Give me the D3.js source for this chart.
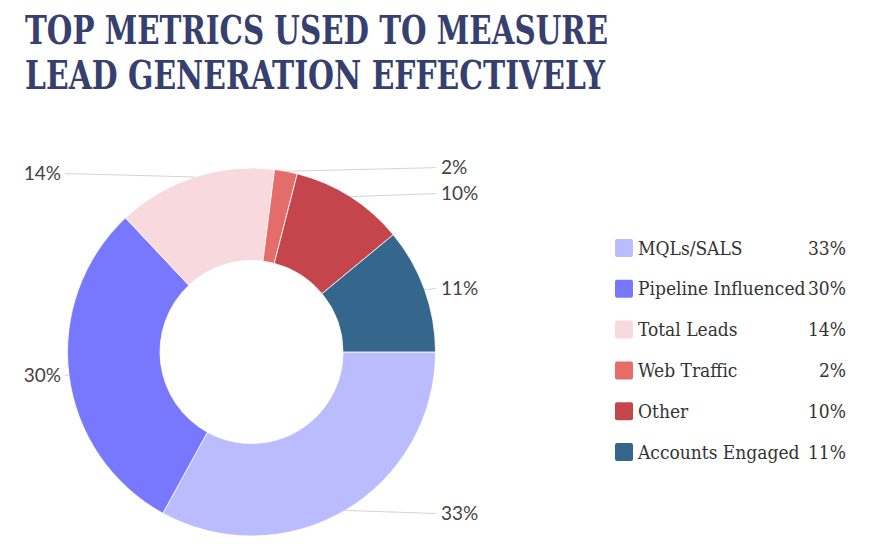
<!DOCTYPE html>
<html>
<head>
<meta charset="utf-8">
<script src="https://cdn.jsdelivr.net/npm/d3@7"></script>
<style>
  body { margin: 0; background: #fff; }
  svg { display: block; }
</style>
</head>
<body>
<div id="chart"></div>
<script>
const titleLines = ["TOP METRICS USED TO MEASURE", "LEAD GENERATION EFFECTIVELY"];
const titleWidths = [583, 580];
const categories = ["MQLs/SALS", "Pipeline Influenced", "Total Leads", "Web Traffic", "Other", "Accounts Engaged"];
const values = [33, 30, 14, 2, 10, 11];
const colors = ["#babcff", "#7878ff", "#f8d9de", "#e46d6a", "#c4454b", "#35678c"];

const width = 882, height = 544;
const cx = 251.5, cy = 352;
const outerR = 184, innerR = 91.5;
const labelRight = 441, labelLeft = 61;

const svg = d3.select("#chart").append("svg")
  .attr("width", width)
  .attr("height", height);

svg.append("g")
  .selectAll("text")
  .data(titleLines)
  .join("text")
  .attr("x", 25)
  .attr("y", (d, i) => 44 + i * 45)
  .attr("font-family", "'DejaVu Serif Condensed', 'DejaVu Serif', serif")
  .attr("font-weight", "bold")
  .attr("font-size", 40)
  .attr("fill", "#363f6e")
  .attr("textLength", (d, i) => titleWidths[i])
  .attr("lengthAdjust", "spacingAndGlyphs")
  .text((d) => d);

const data = categories.map((name, i) => ({ name, value: values[i], color: colors[i] }));

// start at 3 o'clock, clockwise, in series order
const pie = d3.pie()
  .sort(null)
  .value((d) => d.value)
  .startAngle(Math.PI / 2)
  .endAngle(Math.PI / 2 + 2 * Math.PI);
const arcs = pie(data);

const arc = d3.arc().innerRadius(innerR).outerRadius(outerR);
const edge = d3.arc().innerRadius(outerR).outerRadius(outerR);

const g = svg.append("g").attr("transform", `translate(${cx},${cy})`);

g.selectAll(".slice")
  .data(arcs)
  .join("path")
  .attr("class", "slice")
  .attr("d", arc)
  .attr("fill", (d) => d.data.color)
  .attr("stroke", "#fff")
  .attr("stroke-width", 0.8);

// leader lines and outside labels
const labels = arcs.map((d) => {
  const [px, py] = edge.centroid(d);
  const mid = (d.startAngle + d.endAngle) / 2;
  const right = Math.sin(mid) > 0;
  const ly = py * 1.02;
  return { d, px, py, ly, right };
});

g.selectAll(".leader")
  .data(labels)
  .join("line")
  .attr("class", "leader")
  .attr("x1", (l) => l.px)
  .attr("y1", (l) => l.py)
  .attr("x2", (l) => (l.right ? labelRight - cx - 5 : labelLeft - cx + 4))
  .attr("y2", (l) => l.ly)
  .attr("stroke", "#d4d4d4")
  .attr("stroke-width", 1);

g.selectAll(".pct")
  .data(labels)
  .join("text")
  .attr("class", "pct")
  .attr("x", (l) => (l.right ? labelRight - cx : labelLeft - cx))
  .attr("y", (l) => l.ly)
  .attr("dy", "0.35em")
  .attr("text-anchor", (l) => (l.right ? "start" : "end"))
  .attr("font-family", "Lato, sans-serif")
  .attr("font-size", 19)
  .attr("fill", "#444")
  .text((l) => `${l.d.data.value}%`);

// legend
const legend = svg.append("g").attr("transform", "translate(615,248)");
const row = legend.selectAll(".row")
  .data(data)
  .join("g")
  .attr("class", "row")
  .attr("transform", (d, i) => `translate(0,${i * 40.8})`);

row.append("rect")
  .attr("x", 0)
  .attr("y", -9)
  .attr("width", 18)
  .attr("height", 18)
  .attr("rx", 2)
  .attr("fill", (d) => d.color);

row.append("text")
  .attr("x", 23)
  .attr("dy", "0.35em")
  .attr("font-family", "'DejaVu Serif Condensed', 'DejaVu Serif', serif")
  .attr("font-size", 19)
  .attr("fill", "#333")
  .text((d) => d.name);

row.append("text")
  .attr("x", 231)
  .attr("dy", "0.35em")
  .attr("text-anchor", "end")
  .attr("font-family", "'DejaVu Serif Condensed', 'DejaVu Serif', serif")
  .attr("font-size", 19)
  .attr("fill", "#333")
  .text((d) => `${d.value}%`);
</script>
</body>
</html>
